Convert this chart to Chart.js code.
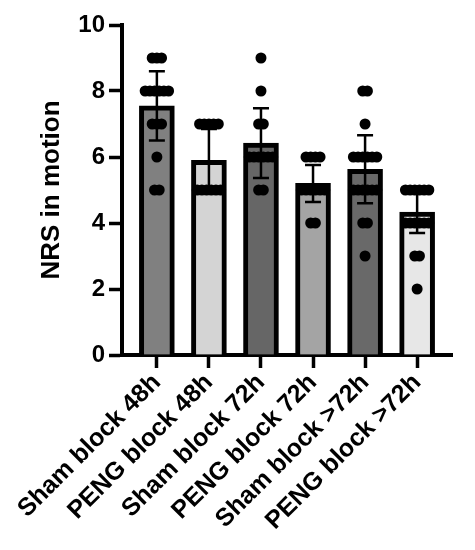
<!DOCTYPE html>
<html>
<head>
<meta charset="utf-8">
<script src="https://cdn.jsdelivr.net/npm/chart.js@4.4.0/dist/chart.umd.min.js"></script>
<style>
   body { margin: 0; background: #fff; }
   #wrap { width: 475px; height: 550px; }
</style>
</head>
<body>
<div id="wrap"><canvas id="myChart"></canvas></div>
<script>
// ============  data  ============
const groups = ['Sham block 48h', 'PENG block 48h', 'Sham block 72h', 'PENG block 72h', 'Sham block >72h', 'PENG block >72h'];
const means = [7.55, 5.9, 6.42, 5.2, 5.63, 4.33];
const sds = [1.05, 0.95, 1.06, 0.56, 1.03, 0.63];
const barColors = ['#808080', '#d4d4d4', '#666666', '#a4a4a4', '#696969', '#e7e7e7'];
const yTicks = [0, 2, 4, 6, 8, 10];

// individual NRS scores per group (read from the dot clusters)
const shamBlock48 = [9, 9, 9, 8, 8, 8, 8, 8, 8, 7, 7, 7, 6, 5, 5];
const pengBlock48 = [7, 7, 7, 7, 7, 5, 5, 5, 5, 5, 5];
const shamBlock72 = [9, 8, 7, 7, 6, 6, 6, 6, 6, 6, 5, 5];
const pengBlock72 = [6, 6, 6, 6, 5, 5, 5, 5, 5, 5, 4, 4];
const shamBlockGt72 = [8, 8, 7, 6, 6, 6, 6, 6, 6, 5, 5, 5, 5, 5, 5, 4, 4, 3];
const pengBlockGt72 = [5, 5, 5, 5, 5, 5, 4, 4, 4, 4, 4, 4, 3, 3, 2];
const scores = [shamBlock48, pengBlock48, shamBlock72, pengBlock72, shamBlockGt72, pengBlockGt72];

// spread equal scores side by side, like a column scatter
const dots = [];
scores.forEach((list, i) => {
   const counts = {};
   list.forEach(v => counts[v] = (counts[v] || 0) + 1);
   Object.keys(counts).forEach(v => {
      const n = counts[v];
      for (let k = 0; k < n; k++) {
         dots.push({ x: i + (k - (n - 1) / 2) * 0.09, y: Number(v) });
      }
   });
});

// mean +/- SD whiskers, drawn right after the bars
const errorBars = {
   id: 'errorBars',
   afterDatasetDraw(chart, args) {
      if (args.index !== 0) return;
      const { ctx, scales: { x, y } } = chart;
      ctx.save();
      ctx.strokeStyle = '#000';
      ctx.lineWidth = 2.5;
      means.forEach((m, i) => {
         const px = x.getPixelForValue(i);
         const top = y.getPixelForValue(m + sds[i]);
         const bot = y.getPixelForValue(m - sds[i]);
         ctx.beginPath();
         ctx.moveTo(px, top); ctx.lineTo(px, bot);
         ctx.moveTo(px - 8, top); ctx.lineTo(px + 8, top);
         ctx.moveTo(px - 8, bot); ctx.lineTo(px + 8, bot);
         ctx.stroke();
      });
      ctx.restore();
   }
};

Chart.defaults.font.family = "'Liberation Sans', Arial, sans-serif";
Chart.defaults.font.weight = 'bold';
Chart.defaults.color = '#000';

let ctx = document.getElementById('myChart').getContext('2d');
let myChart = new Chart(ctx, {
   type: 'bar',
   data: {
      datasets: [{
         type: 'bar',
         data: means.map((m, i) => ({ x: i, y: m })),
         backgroundColor: barColors,
         borderColor: '#000',
         borderWidth: 5,
         barThickness: 35,
         order: 2,
      }, {
         type: 'scatter',
         data: dots,
         pointRadius: 5.5,
         pointBackgroundColor: '#000',
         pointBorderWidth: 0,
         order: 1,
      }],
   },
   options: {
      responsive: true,
      maintainAspectRatio: false,
      animation: false,
      layout: {
         padding: { top: 25, right: 23, left: 0, bottom: 0 },
      },
      scales: {
         x: {
            type: 'linear',
            min: -0.67,
            max: 5.67,
            offset: false,
            border: { color: '#000', width: 4 },
            grid: {
               offset: false,
               drawOnChartArea: false,
               color: '#000',
               tickLength: 13,
               tickWidth: 3.5,
            },
            ticks: {
               autoSkip: false,
               minRotation: 45,
               maxRotation: 45,
               padding: 0,
               font: { size: 25 },
               callback: (v) => groups[v],
            },
            afterBuildTicks: (axis) => { axis.ticks = groups.map((g, i) => ({ value: i })); },
            afterFit: (axis) => { axis.height = 195; },
         },
         y: {
            min: 0,
            max: 10,
            border: { color: '#000', width: 4 },
            grid: {
               drawOnChartArea: false,
               color: '#000',
               tickLength: 13,
               tickWidth: 3.5,
            },
            ticks: {
               padding: 4,
               font: { size: 24 },
            },
            afterBuildTicks: (axis) => { axis.ticks = yTicks.map(v => ({ value: v })); },
            title: {
               display: true,
               text: 'NRS in motion',
               font: { size: 26, weight: 'bold' },
               padding: { top: 36, bottom: 0 },
            },
            afterFit: (axis) => { axis.width = 122; },
         },
      },
      plugins: {
         legend: { display: false },
         tooltip: { enabled: false },
      },
   },
   plugins: [errorBars],
});
</script>
</body>
</html>
